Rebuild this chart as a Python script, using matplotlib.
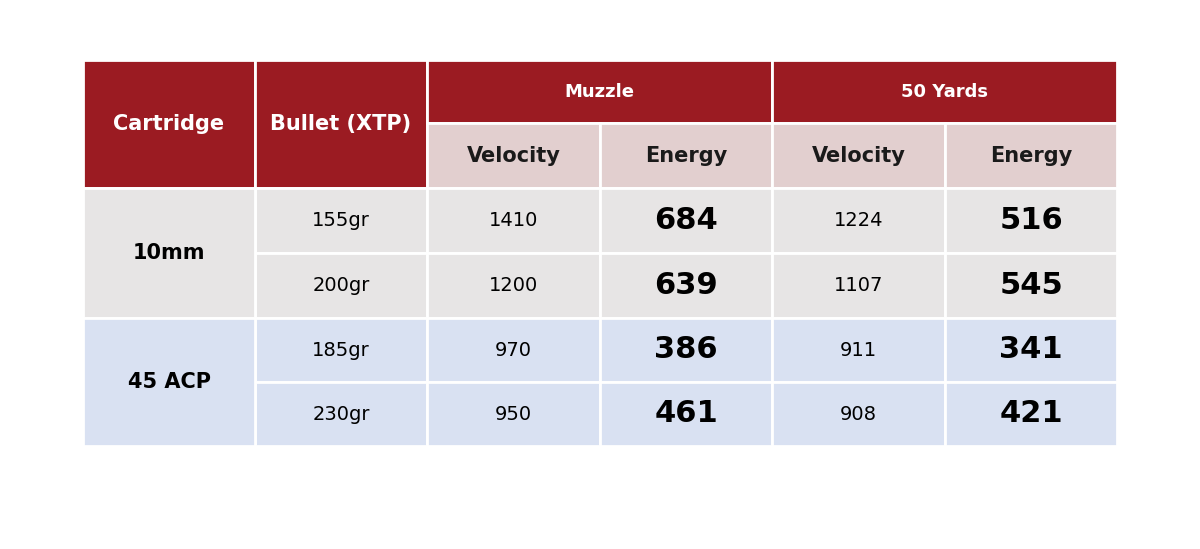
import matplotlib
matplotlib.use("Agg")
import matplotlib.pyplot as plt
from matplotlib.patches import Rectangle

cartridges = ["10mm", "45 ACP"]
bullets = ["155gr", "200gr", "185gr", "230gr"]
muzzle_velocity = [1410, 1200, 970, 950]
muzzle_energy = [684, 639, 386, 461]
yards50_velocity = [1224, 1107, 911, 908]
yards50_energy = [516, 545, 341, 421]

FONT = ["Liberation Sans Narrow", "DejaVu Sans"]
RED = "#9b1b22"; PINK = "#e2cfcf"; GREY = "#e7e5e5"; BLUE = "#d9e1f2"

fig = plt.figure(figsize=(12, 5.49), dpi=100)
ax = fig.add_axes([0, 0, 1, 1])
ax.set_xlim(0, 1200); ax.set_ylim(549, 0); ax.axis("off")

xs = [83, 255, 427, 600, 772, 945, 1117]
ys = [60, 123, 188, 253, 318, 382, 446]

def cell(x0, x1, y0, y1, color):
    ax.add_patch(Rectangle((x0, y0), x1 - x0, y1 - y0, facecolor=color,
                           edgecolor="white", linewidth=2))

def txt(x, y, s, size=15, weight="bold", color="black"):
    ax.text(x, y, s, ha="center", va="center", fontsize=size, fontweight=weight,
            color=color, family=FONT)

# header
cell(xs[0], xs[1], ys[0], ys[2], RED); txt((xs[0]+xs[1])/2, 124, "Cartridge", 15, color="white")
cell(xs[1], xs[2], ys[0], ys[2], RED); txt((xs[1]+xs[2])/2, 124, "Bullet (XTP)", 15, color="white")
cell(xs[2], xs[4], ys[0], ys[1], RED); txt((xs[2]+xs[4])/2, 92, "Muzzle", 13, color="white")
cell(xs[4], xs[6], ys[0], ys[1], RED); txt((xs[4]+xs[6])/2, 92, "50 Yards", 13, color="white")
for i, lab in zip(range(2, 6), ["Velocity", "Energy", "Velocity", "Energy"]):
    cell(xs[i], xs[i+1], ys[1], ys[2], PINK)
    txt((xs[i]+xs[i+1])/2, 156, lab, 15, color="#1a1a1a")

# body
for r in range(4):
    col = GREY if r < 2 else BLUE
    y0, y1 = ys[2+r], ys[3+r]; yc = (y0 + y1) / 2
    for i in range(1, 6):
        cell(xs[i], xs[i+1], y0, y1, col)
    txt((xs[1]+xs[2])/2, yc, bullets[r], 14, "normal")
    txt((xs[2]+xs[3])/2, yc, str(muzzle_velocity[r]), 14, "normal")
    txt((xs[3]+xs[4])/2, yc, str(muzzle_energy[r]), 22)
    txt((xs[4]+xs[5])/2, yc, str(yards50_velocity[r]), 14, "normal")
    txt((xs[5]+xs[6])/2, yc, str(yards50_energy[r]), 22)
for k in range(2):
    y0, y1 = ys[2+2*k], ys[4+2*k]
    cell(xs[0], xs[1], y0, y1, GREY if k == 0 else BLUE)
    txt((xs[0]+xs[1])/2, (y0+y1)/2, cartridges[k], 15)

fig.savefig("out.png", dpi=100, facecolor="white")
